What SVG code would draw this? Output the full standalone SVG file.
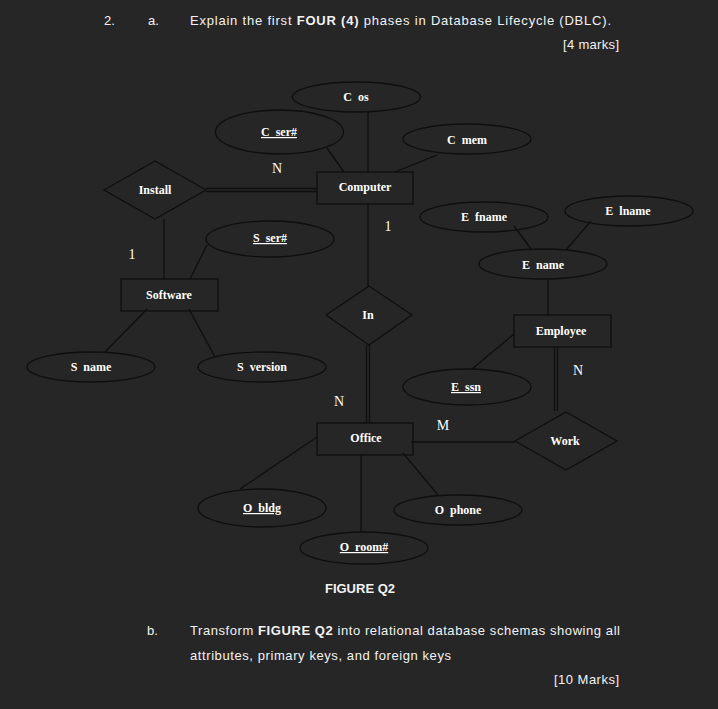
<svg xmlns="http://www.w3.org/2000/svg" width="718" height="709" viewBox="0 0 718 709">
<style>
.bg{fill:#262626}
.sh{fill:none;stroke:#0e0e0e;stroke-width:1.3}
.ln{stroke:#0e0e0e;stroke-width:1.3;fill:none}
.lb{font-family:"Liberation Serif",serif;font-weight:bold;font-size:12px;fill:#fff;text-anchor:middle;white-space:pre}
.u{text-decoration:underline}
.card{font-family:"Liberation Serif",serif;font-size:14px;fill:#fff;text-anchor:middle}
.tx{font-family:"Liberation Sans",Arial,sans-serif;font-size:13px;fill:#f2f2f2}
.b{font-weight:bold}
</style>
<rect class="bg" x="0" y="0" width="718" height="709"/>

<text class="tx" x="104" y="25">2.</text>
<text class="tx" x="148" y="25">a.</text>
<text class="tx" x="190" y="25" textLength="421" lengthAdjust="spacing">Explain the first <tspan class="b">FOUR (4)</tspan> phases in Database Lifecycle (DBLC).</text>
<text class="tx" x="619" y="49" text-anchor="end" textLength="56" lengthAdjust="spacing">[4 marks]</text>

<g id="connectors">
<line class="ln" x1="368" y1="112" x2="368" y2="172"/>
<line class="ln" x1="327" y1="148" x2="344" y2="172"/>
<line class="ln" x1="437" y1="155" x2="395" y2="172"/>
<line class="ln" x1="206" y1="188.5" x2="317" y2="188.5"/>
<line class="ln" x1="206" y1="191.5" x2="317" y2="191.5"/>
<line class="ln" x1="164" y1="219" x2="164" y2="279"/>
<line class="ln" x1="207" y1="245" x2="190" y2="279"/>
<line class="ln" x1="147" y1="309" x2="105" y2="352"/>
<line class="ln" x1="189" y1="309" x2="215" y2="357"/>
<line class="ln" x1="368" y1="204" x2="368" y2="286"/>
<line class="ln" x1="366.5" y1="345" x2="366.5" y2="423"/>
<line class="ln" x1="369.5" y1="345" x2="369.5" y2="423"/>
<line class="ln" x1="514" y1="226" x2="531" y2="249"/>
<line class="ln" x1="591" y1="221" x2="566" y2="250"/>
<line class="ln" x1="548" y1="279" x2="548" y2="315"/>
<line class="ln" x1="472" y1="369" x2="514" y2="334"/>
<line class="ln" x1="554.5" y1="347" x2="554.5" y2="411"/>
<line class="ln" x1="557.5" y1="347" x2="557.5" y2="411"/>
<line class="ln" x1="411" y1="442" x2="515" y2="442"/>
<line class="ln" x1="317" y1="437" x2="240" y2="489"/>
<line class="ln" x1="361" y1="455" x2="361" y2="532"/>
<line class="ln" x1="403" y1="453" x2="438" y2="495"/>
</g>

<g id="c_os"><ellipse class="sh" cx="356.5" cy="97" rx="64" ry="15"/><text class="lb" x="356" y="101">C  os</text></g>
<g id="c_ser"><ellipse class="sh" cx="279.5" cy="132" rx="64" ry="22"/><text class="lb u" x="279" y="136">C_ser#</text></g>
<g id="c_mem"><ellipse class="sh" cx="467" cy="139" rx="64" ry="15"/><text class="lb" x="467" y="144">C  mem</text></g>
<g id="computer"><rect class="sh" x="317" y="172" width="96" height="32"/><text class="lb" x="365" y="191">Computer</text></g>
<g id="install"><polygon class="sh" points="104,190 155,161 206,190 155,219"/><text class="lb" x="155" y="194">Install</text></g>
<g id="s_ser"><ellipse class="sh" cx="270" cy="239" rx="64" ry="18"/><text class="lb u" x="270" y="242">S_ser#</text></g>
<g id="software"><rect class="sh" x="121" y="279" width="97" height="32"/><text class="lb" x="169" y="299">Software</text></g>
<g id="s_name"><ellipse class="sh" cx="91" cy="367" rx="64" ry="15"/><text class="lb" x="91" y="371">S  name</text></g>
<g id="s_version"><ellipse class="sh" cx="262" cy="367" rx="64" ry="15"/><text class="lb" x="262" y="371">S  version</text></g>
<g id="in"><polygon class="sh" points="326,315 369,286 412,315 369,345"/><text class="lb" x="368" y="319">In</text></g>
<g id="e_fname"><ellipse class="sh" cx="484" cy="217" rx="64" ry="15"/><text class="lb" x="484" y="221">E  fname</text></g>
<g id="e_lname"><ellipse class="sh" cx="629" cy="211" rx="64" ry="15"/><text class="lb" x="628" y="215">E  lname</text></g>
<g id="e_name"><ellipse class="sh" cx="543" cy="264" rx="64" ry="15"/><text class="lb" x="543" y="269">E  name</text></g>
<g id="employee"><rect class="sh" x="514" y="315" width="97" height="32"/><text class="lb" x="561" y="335">Employee</text></g>
<g id="e_ssn"><ellipse class="sh" cx="467" cy="387" rx="64" ry="18"/><text class="lb u" x="466" y="391">E_ssn</text></g>
<g id="work"><polygon class="sh" points="515,441 566,412 617,441 566,470"/><text class="lb" x="565" y="445">Work</text></g>
<g id="office"><rect class="sh" x="317" y="423" width="96" height="32"/><text class="lb" x="366" y="442">Office</text></g>
<g id="o_bldg"><ellipse class="sh" cx="262" cy="508" rx="64" ry="19"/><text class="lb u" x="262" y="512">O_bldg</text></g>
<g id="o_room"><ellipse class="sh" cx="364" cy="548" rx="64" ry="16"/><text class="lb u" x="364" y="551">O_room#</text></g>
<g id="o_phone"><ellipse class="sh" cx="458" cy="510" rx="64" ry="15"/><text class="lb" x="458" y="514">O  phone</text></g>

<text class="card" x="277" y="173">N</text>
<text class="card" x="388" y="231">1</text>
<text class="card" x="132" y="259">1</text>
<text class="card" x="339" y="406">N</text>
<text class="card" x="443" y="430">M</text>
<text class="card" x="578" y="375">N</text>

<text class="tx b" x="360" y="593" text-anchor="middle">FIGURE Q2</text>
<text class="tx" x="147" y="635">b.</text>
<text class="tx" x="190" y="635" textLength="430" lengthAdjust="spacing">Transform <tspan class="b">FIGURE Q2</tspan> into relational database schemas showing all</text>
<text class="tx" x="190" y="660" textLength="261" lengthAdjust="spacing">attributes, primary keys, and foreign keys</text>
<text class="tx" x="619" y="684" text-anchor="end" textLength="65" lengthAdjust="spacing">[10 Marks]</text>
</svg>
